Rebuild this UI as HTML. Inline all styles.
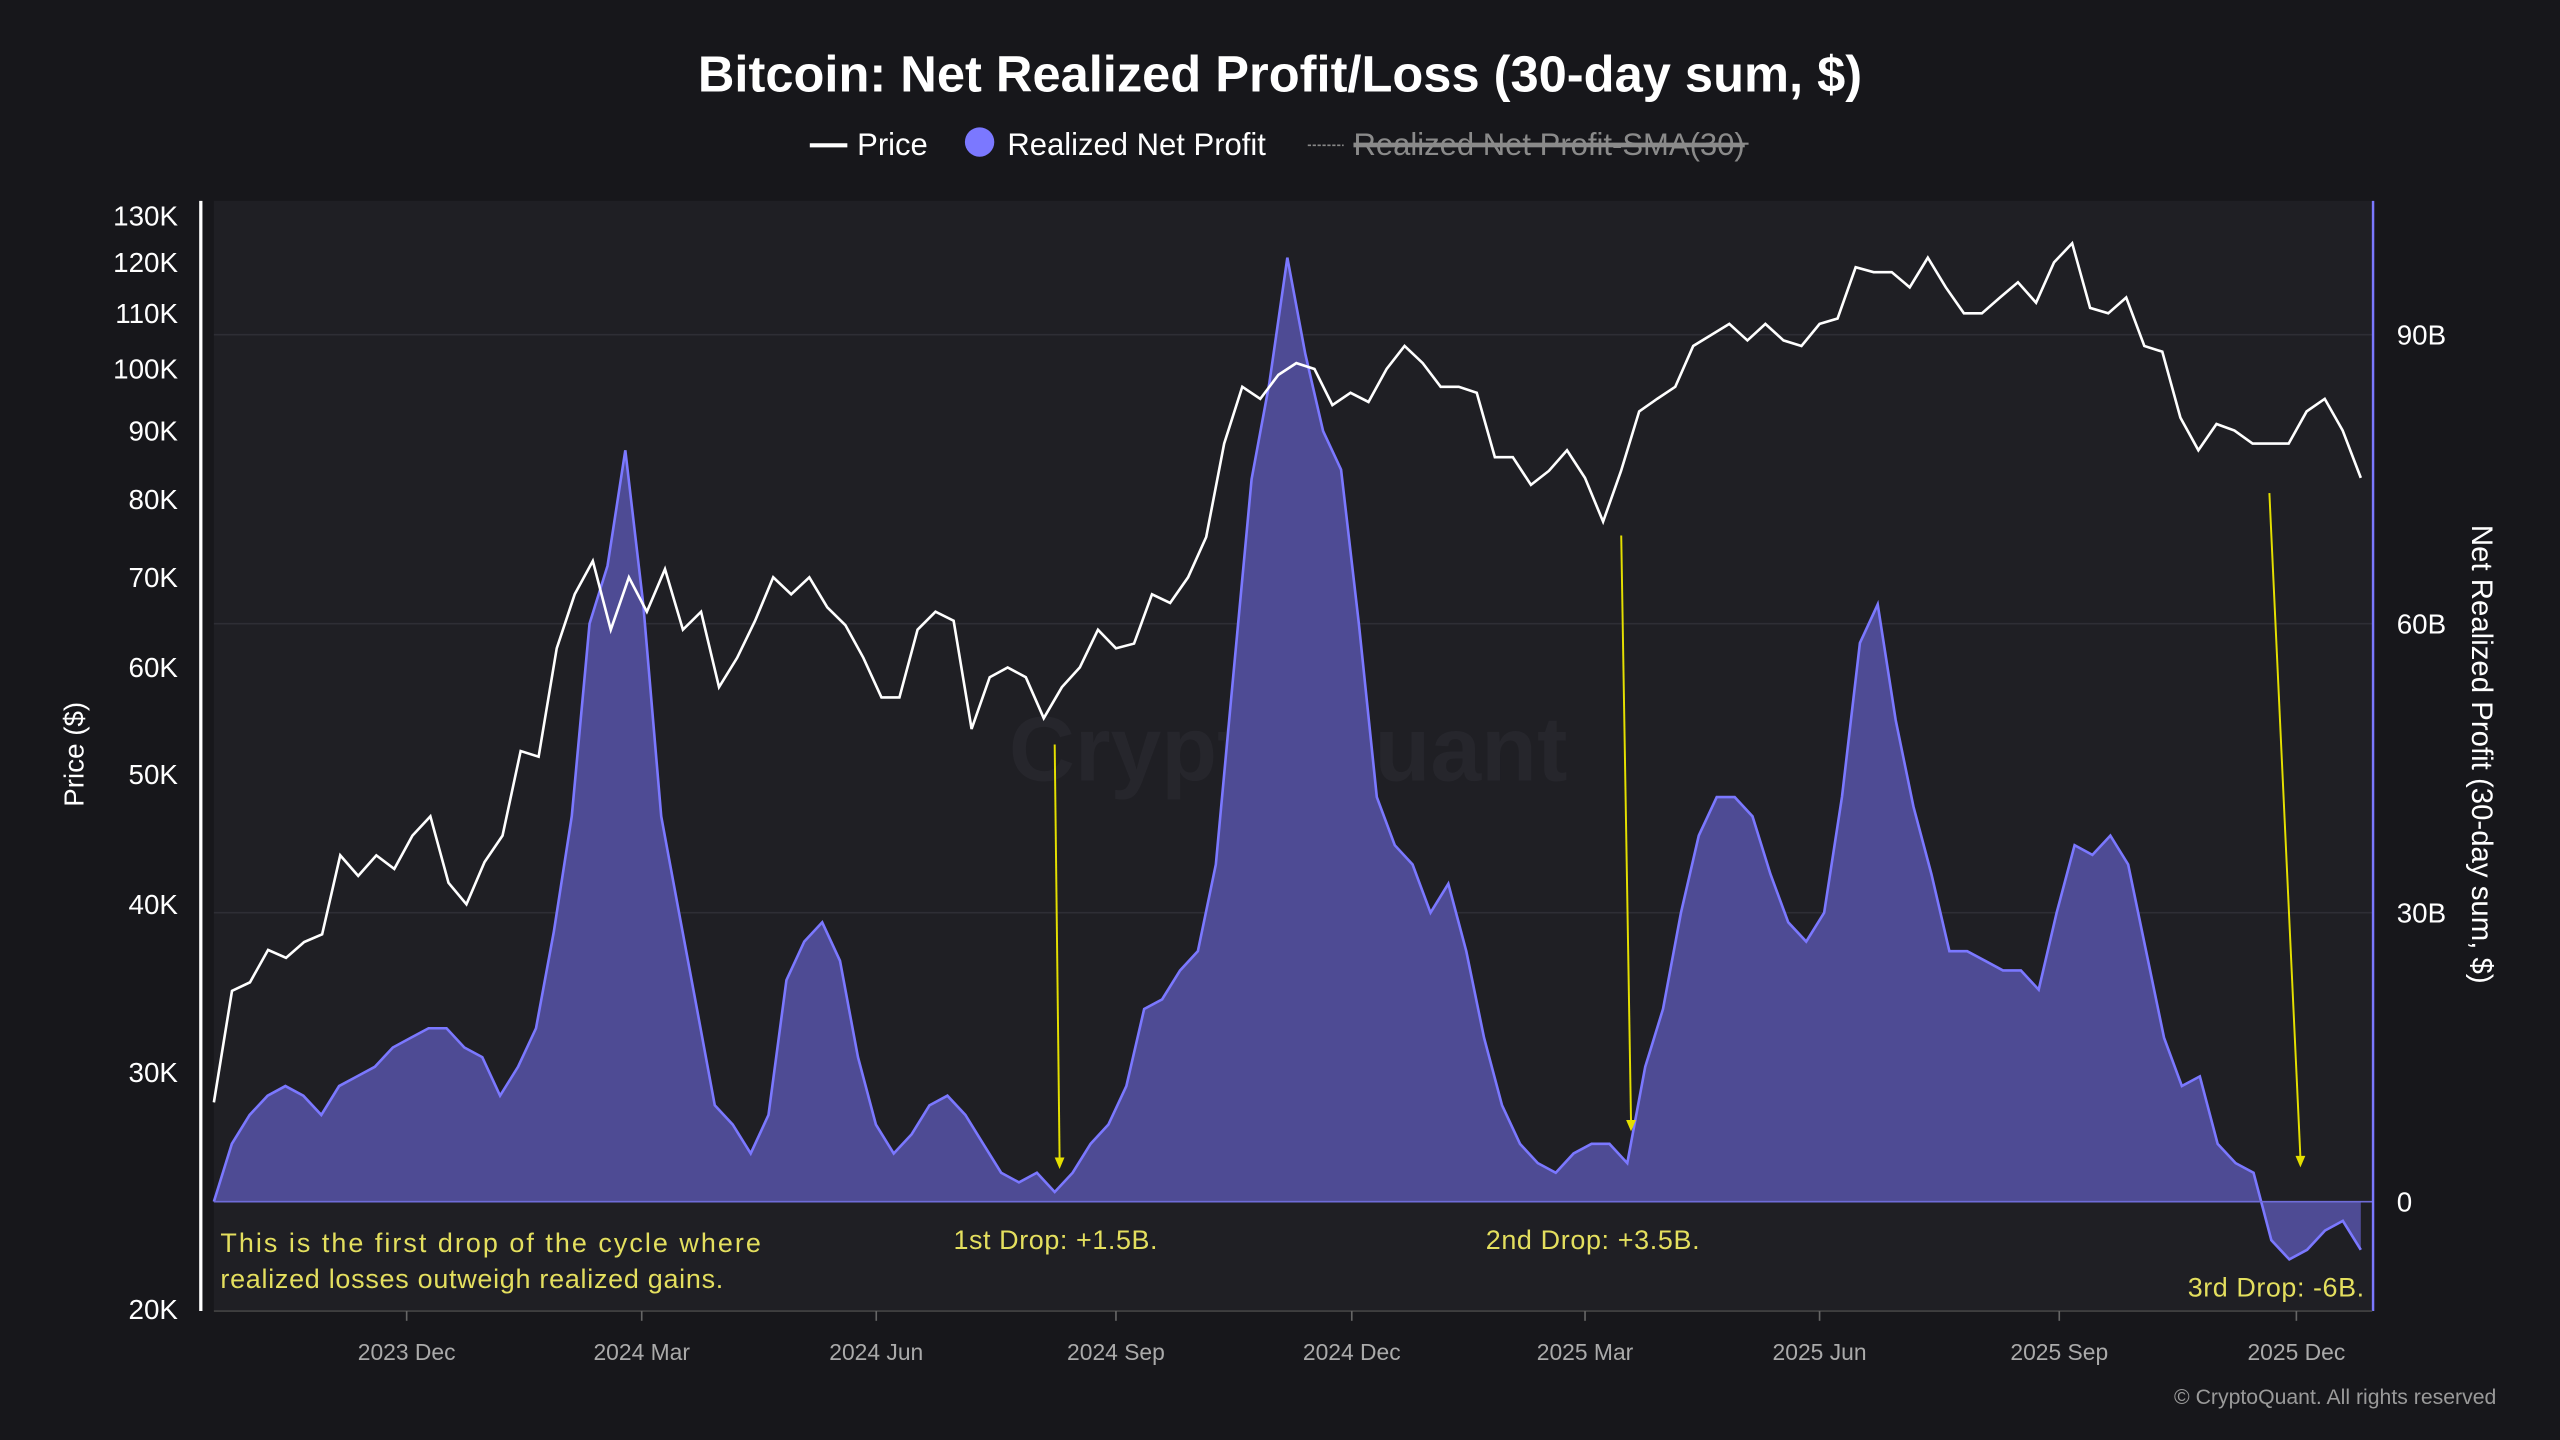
<!DOCTYPE html>
<html><head><meta charset="utf-8"><style>
html,body{margin:0;padding:0;background:#17171b;}
svg{display:block;font-family:"Liberation Sans",sans-serif;}
</style></head><body>
<svg id="chart" width="2560" height="1440" viewBox="0 0 1568 882" xmlns="http://www.w3.org/2000/svg">
<rect width="1568" height="882" fill="#17171b"/>
<text x="784" y="56" text-anchor="middle" fill="#ffffff" font-size="31" font-weight="bold">Bitcoin: Net Realized Profit/Loss (30-day sum, $)</text>
<g font-size="19">
 <g><line x1="496" y1="89" x2="519" y2="89" stroke="#fff" stroke-width="2.5"/><text x="525" y="95" fill="#fff">Price</text></g>
 <g><circle cx="600" cy="87" r="9" fill="#7b78ff"/><text x="617" y="95" fill="#fff">Realized Net Profit</text></g>
 <g><line x1="801" y1="89" x2="823" y2="89" stroke="#888" stroke-width="1" stroke-dasharray="2,1"/><text x="829" y="95" fill="#8a8a8a" text-decoration="line-through">Realized Net Profit-SMA(30)</text><line x1="829" y1="88" x2="1071" y2="88" stroke="#8a8a8a" stroke-width="1.3"/></g>
</g>
<rect x="131" y="123" width="1322" height="680" fill="#1f1f24"/>
<g id="grid"></g>
<text x="789" y="478" text-anchor="middle" fill="#26262c" font-size="56" font-weight="bold">CryptoQuant</text>
<g id="series"></g>
<line x1="123" y1="123" x2="123" y2="803" stroke="#ffffff" stroke-width="2"/>
<line x1="1453.5" y1="123" x2="1453.5" y2="803" stroke="#7b78ff" stroke-width="1.5"/>
<line x1="131" y1="803" x2="1453" y2="803" stroke="#444" stroke-width="1"/>
<g id="yleft" font-size="17" fill="#fff" text-anchor="end"></g>
<g id="yright" font-size="17" fill="#fff"></g>
<g id="xaxis" font-size="14" fill="#aaa" text-anchor="middle"></g>
<text transform="translate(51,462) rotate(-90)" text-anchor="middle" fill="#fff" font-size="17">Price ($)</text>
<text transform="translate(1514,462) rotate(90)" text-anchor="middle" fill="#fff" font-size="18">Net Realized Profit (30-day sum, $)</text>
<g fill="#e4df5e" font-size="16.5">
 <text x="135" y="767" textLength="331">This is the first drop of the cycle where</text>
 <text x="135" y="789" textLength="308">realized losses outweigh realized gains.</text>
 <text x="584" y="765" textLength="125">1st Drop: +1.5B.</text>
 <text x="910" y="765" textLength="131">2nd Drop: +3.5B.</text>
 <text x="1340" y="794" textLength="108">3rd Drop: -6B.</text>
 <g stroke="#e4df00" stroke-width="1.2">
  <line x1="646" y1="456" x2="649" y2="710"/>
  <line x1="993" y1="328" x2="999" y2="687"/>
  <line x1="1390" y1="302" x2="1409" y2="709"/>
 </g>
 <polygon points="646,709 652,709 649,716" fill="#e4df00"/>
 <polygon points="996,686 1002,686 999,693" fill="#e4df00"/>
 <polygon points="1406,708 1412,708 1409,715" fill="#e4df00"/>
</g>
<text x="1529" y="860" text-anchor="end" fill="#9a9a9a" font-size="13">© CryptoQuant. All rights reserved</text>
</svg>
<script>
const priceK = [28.5,34.5,35,37,36.5,37.5,38,43.5,42,43.5,42.5,
45,46.5,41.5,40,43,45,52,51.5,62,68,72,64,70,66,71,64,66,58,61,65,70,68,70,66.5,64.5,61,57,57,64,66,65,54,59,60,59,55,58,60,64,62,62.5,68,67,70,75,88,97,95,99,101,100,94,96,
94.5,100,104,101,97,97,96,86,86,82,84,87,83,77,84,93,95,97,104,106,108,105,108,105,104,108,109,119,118,118,115,121,115,110,110,113,116,112,120,124,111,110,113,104,103,92,87,91,90,88,88,88,
93,95,90,83];
const netProfitB = [0,6,9,11,12,11,9,12,13,14,16,17,18,18,16,15,11,14,18,28,40,60,66,78,62,40,30,20,10,8,5,9,23,27,29,25,15,8,5,7,10,11,9,6,3,2,3,1,3,6,8,12,20,21,24,26,35,55,75,85,98,88,80,76,60,42,37,35,30,33,26,17,10,6,4,3,5,6,6,4,14,20,30,38,42,42,40,34,29,27,30,42,58,62,50,41,34,26,26,25,24,24,22,30,37,36,38,35,26,17,12,13,6,4,3,-4,-6,-5,-3,-2,-5];
const priceTicks = [20,30,40,50,60,70,80,90,100,110,120,130];
const profitTicks = [0,30,60,90];
const xLabels = ["2023 Dec","2024 Mar","2024 Jun","2024 Sep","2024 Dec","2025 Mar","2025 Jun","2025 Sep","2025 Dec"];
const xLabelDays = [74.8,166,257,350,441.5,532,623,716,808];

const NS="http://www.w3.org/2000/svg";
const X0=131, X1=1446, DAYS=833;
function xDay(d){return X0+d*(X1-X0)/DAYS;}
function yPrice(k){return 802-357.9*Math.log(k/20);}
function yProfit(b){return 736-b*5.9;}
function mk(tag,attrs,parent){const e=document.createElementNS(NS,tag);for(const k in attrs)e.setAttribute(k,attrs[k]);parent.appendChild(e);return e;}

const grid=document.getElementById('grid');
profitTicks.forEach(v=>{ if(v===0) return;
 const l=mk('line',{x1:131,x2:1453,y1:yProfit(v),y2:yProfit(v),stroke:'#2e2e35','stroke-width':1},grid);
 
 
});
const yl=document.getElementById('yleft');
priceTicks.forEach(v=>{
 const t=mk('text',{x:109,y:yPrice(v)+6},yl); t.textContent=v+'K';
 
 
});
const yr=document.getElementById('yright');
profitTicks.forEach(v=>{
 const t=mk('text',{x:1468,y:yProfit(v)+6},yr); t.textContent=v===0?'0':v+'B';
 
 
});
const xa=document.getElementById('xaxis');
xLabels.forEach((s,i)=>{
 const x=xDay(xLabelDays[i]);
 const tk=mk('line',{x1:x,x2:x,y1:803,y2:809,stroke:'#666'},xa);
 
 
 const t=mk('text',{x:x,y:833},xa); t.textContent=s;
 
 
});
const g=document.getElementById('series');
const n=netProfitB.length;
let pts=netProfitB.map((v,i)=>[xDay(i*DAYS/(n-1)),yProfit(v)]);
let d='M'+pts[0][0]+','+yProfit(0)+' '+pts.map(p=>'L'+p[0].toFixed(1)+','+p[1].toFixed(1)).join(' ')+' L'+pts[n-1][0]+','+yProfit(0)+'Z';
const area=mk('path',{d:d,fill:'#4e4b94',stroke:'none'},g);


const pl=mk('path',{d:'M'+pts.map(p=>p[0].toFixed(1)+','+p[1].toFixed(1)).join(' L'),fill:'none',stroke:'#7b78ff','stroke-width':1.6},g);


const zl=mk('line',{x1:131,x2:1453,y1:yProfit(0),y2:yProfit(0),stroke:'#6f6cd8','stroke-width':1},g);


const m=priceK.length;
const pp=priceK.map((v,i)=>xDay(i*DAYS/(m-1)).toFixed(1)+','+yPrice(v).toFixed(1));
const pr=mk('path',{d:'M'+pp.join(' L'),fill:'none',stroke:'#ffffff','stroke-width':1.6},g);


</script>
</body></html>
